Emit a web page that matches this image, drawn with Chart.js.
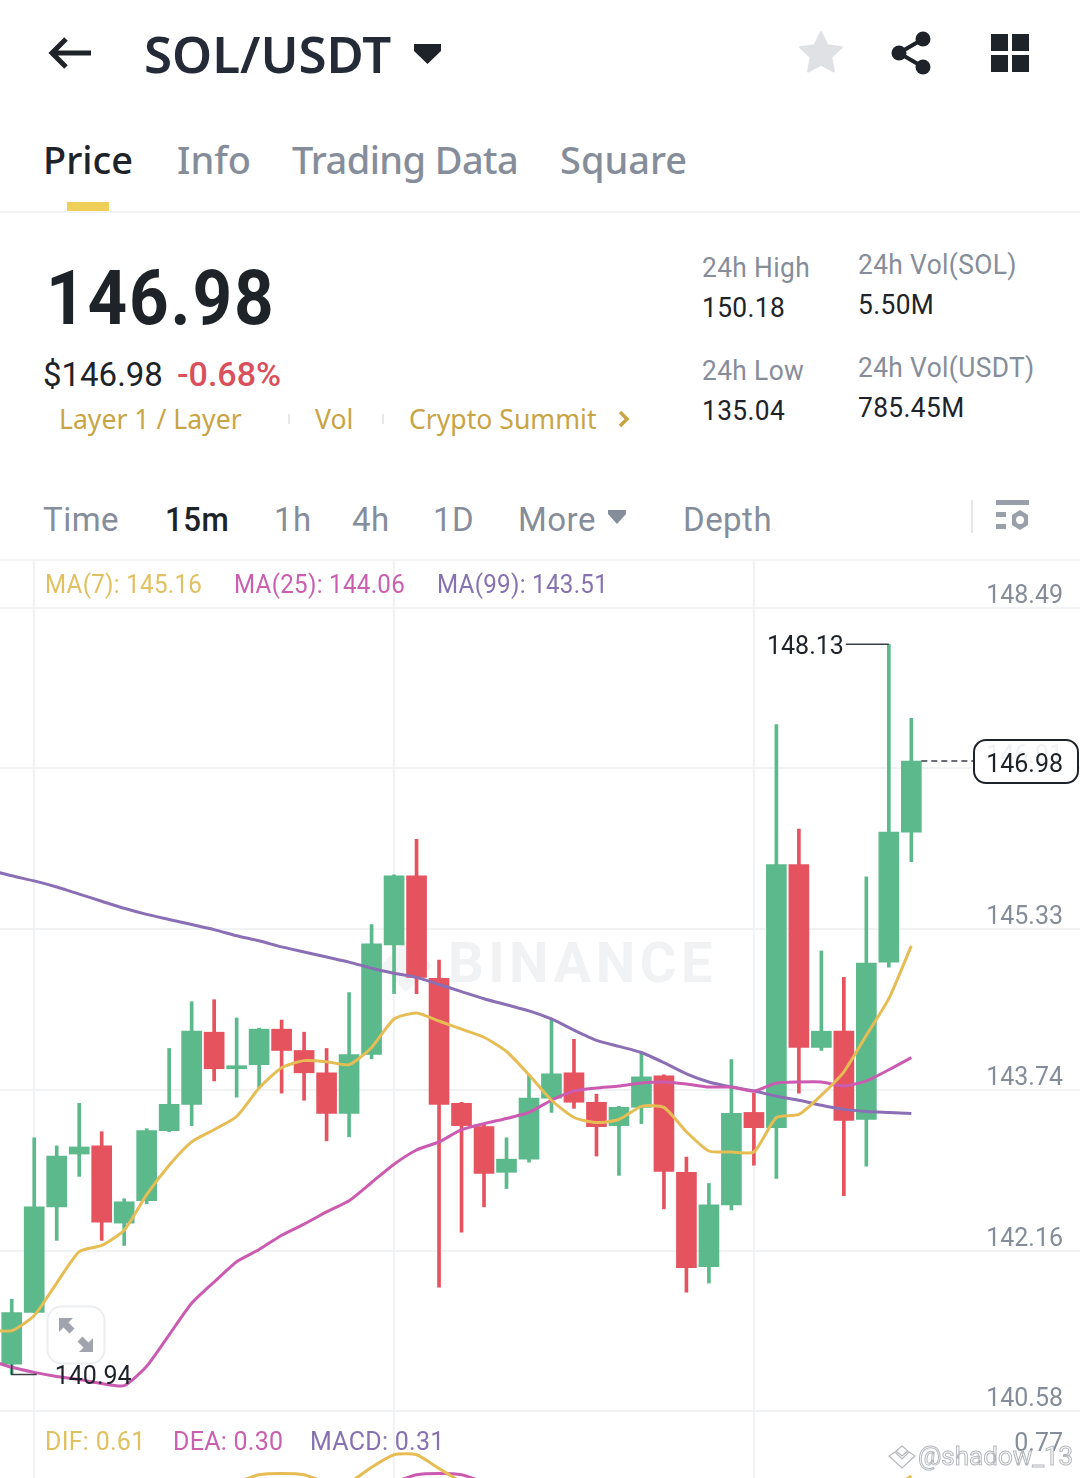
<!DOCTYPE html>
<html>
<head>
<meta charset="utf-8">
<title>SOL/USDT</title>
<script src="https://cdn.jsdelivr.net/npm/chart.js@4"></script>
<style>
  html, body { margin: 0; padding: 0; background: #fff; }
  body { position: relative; width: 1080px; height: 1478px; overflow: hidden; font-family: Roboto, sans-serif; color: #1e2329; }
  .t { position: absolute; white-space: nowrap; transform: translateY(-50%) scaleX(var(--sx, 1)); transform-origin: left center; line-height: 1; z-index: 3; }
  .tab { font-family: "Noto Sans", sans-serif; font-size: 38px; font-weight: 500; color: #868d9a; top: 159px; }
  .stat { font-size: 28px; letter-spacing: .4px; --sx: .94; }
  .grey { color: #868d9a; }
  .tag { color: #c9a445; top: 419px; font-family: "Noto Sans", sans-serif; font-size: 26.6px; }
  .period { font-size: 34px; color: #868d9a; top: 519px; letter-spacing: .5px; --sx: .97; }
  .ind { font-size: 26px; letter-spacing: .3px; --sx: .93; }
  .rule { position: absolute; left: 0; width: 1080px; height: 2px; background: #f2f3f5; }
  .abs { position: absolute; z-index: 3; }
  canvas { position: absolute; z-index: 1; }
  #wm { position: absolute; left: 448px; top: 963px; transform: translateY(-50%); font: 700 56px Roboto, sans-serif; letter-spacing: 4.5px; color: #f1f2f3; line-height: 1; z-index: 0; }
  #sig { position: absolute; left: 918px; top: 1456px; transform: translateY(-50%); font: 26px Roboto, sans-serif; color: #fff; -webkit-text-stroke: 1px #b4b8bd; line-height: 1; z-index: 4; }
</style>
</head>
<body>

<!-- header -->
<svg class="abs" style="left:46px;top:34px" width="48" height="38" viewBox="0 0 48 38"><path d="M45 19H6M20 5 6 19l14 14" fill="none" stroke="#1e2329" stroke-width="5"/></svg>
<div class="t" style="left:144px;top:53px;font-family:'Noto Sans',sans-serif;font-size:51px;font-weight:600;color:#252b36">SOL/USDT</div>
<svg class="abs" style="left:414px;top:44px" width="27" height="20"><path d="M0 0H27V7L13.5 20 0 7Z" fill="#1e2329"/></svg>
<svg class="abs" style="left:799px;top:30px" width="44" height="44" viewBox="0 0 44 44"><path d="M22 2l6.4 13.2 14.4 2-10.5 10 2.6 14.3L22 34.6 9.100 41.500l2.600-14.300-10.500-10 14.400-2z" fill="#dfe1e5" stroke="#dfe1e5" stroke-width="2" stroke-linejoin="round"/></svg>
<svg class="abs" style="left:888px;top:30px" width="44" height="46" viewBox="0 0 44 46"><g fill="#1e2329"><circle cx="35" cy="9" r="7.500"/><circle cx="11" cy="23" r="7.500"/><circle cx="35" cy="37" r="7.500"/></g><path d="M35 9 11 23l24 14" fill="none" stroke="#1e2329" stroke-width="4"/></svg>
<svg class="abs" style="left:991px;top:34px" width="38" height="38"><g fill="#1e2329"><rect width="17" height="17"/><rect x="21" width="17" height="17"/><rect y="21" width="17" height="17"/><rect x="21" y="21" width="17" height="17"/></g></svg>

<div class="t tab" style="left:43px;color:#1e2329">Price</div>
<div class="t tab" style="left:177px">Info</div>
<div class="t tab" style="left:292px;letter-spacing:-.6px">Trading Data</div>
<div class="t tab" style="left:560px">Square</div>
<div class="abs" style="left:67px;top:202px;width:42px;height:9px;background:#f0cf58"></div>
<div class="rule" style="top:211px"></div>

<div class="t" style="left:46px;top:298px;font-size:76px;font-weight:700;letter-spacing:2px;--sx:.91">146.98</div>
<div class="t" style="left:43px;top:374px;font-size:34px;--sx:.97">$146.98</div>
<div class="t" style="left:177px;top:374px;font-size:34px;font-weight:500;color:#d9505c">-0.68%</div>
<div class="t tag" style="left:59px">Layer 1 / Layer</div>
<div class="t tag" style="left:315px">Vol</div>
<div class="t tag" style="left:409px">Crypto Summit</div>
<div class="abs" style="left:288px;top:414px;width:2px;height:10px;background:#e6e8ea"></div>
<div class="abs" style="left:382px;top:414px;width:2px;height:10px;background:#e6e8ea"></div>
<svg class="abs" style="left:617px;top:409px" width="14" height="20"><path d="M3 3l7 7-7 7" fill="none" stroke="#c9a445" stroke-width="3.500"/></svg>

<div class="t stat grey" style="left:702px;top:268px">24h High</div>
<div class="t stat" style="left:702px;top:308px">150.18</div>
<div class="t stat grey" style="left:702px;top:371px">24h Low</div>
<div class="t stat" style="left:702px;top:411px">135.04</div>
<div class="t stat grey" style="left:858px;top:265px">24h Vol(SOL)</div>
<div class="t stat" style="left:858px;top:305px">5.50M</div>
<div class="t stat grey" style="left:858px;top:368px">24h Vol(USDT)</div>
<div class="t stat" style="left:858px;top:408px">785.45M</div>

<div class="t period" style="left:43px">Time</div>
<div class="t period" style="left:165px;color:#1e2329;font-weight:500;--sx:.92">15m</div>
<div class="t period" style="left:274px">1h</div>
<div class="t period" style="left:352px">4h</div>
<div class="t period" style="left:433px">1D</div>
<div class="t period" style="left:518px">More</div>
<svg class="abs" style="left:608px;top:510px" width="18" height="14"><path d="M0 0H18V4L9 14 0 4Z" fill="#868d9a"/></svg>
<div class="t period" style="left:683px">Depth</div>
<div class="abs" style="left:971px;top:500px;width:2px;height:33px;background:#e6e8ea"></div>
<svg class="abs" style="left:995px;top:499px" width="36" height="36"><g fill="#9aa0aa"><rect x="1" y="1" width="33" height="5"/><rect x="1" y="13" width="10" height="5"/><rect x="1" y="25" width="10" height="5"/></g><path d="M25 11l8 5v10l-8 5-8-5V16z" fill="#9aa0aa"/><circle cx="25" cy="21" r="4" fill="#fff"/></svg>
<div class="rule" style="top:559px"></div>

<!-- legends -->
<div class="t ind" style="left:45px;top:584px;color:#e0c060">MA(7): 145.16</div>
<div class="t ind" style="left:234px;top:584px;color:#c95fae">MA(25): 144.06</div>
<div class="t ind" style="left:437px;top:584px;color:#8672b0">MA(99): 143.51</div>
<div class="t ind" style="left:45px;top:1441px;color:#e0c060;--sx:.96">DIF: 0.61</div>
<div class="t ind" style="left:173px;top:1441px;color:#c95fae;--sx:.96">DEA: 0.30</div>
<div class="t ind" style="left:310px;top:1441px;color:#8672b0;--sx:.96">MACD: 0.31</div>

<div id="wm">BINANCE</div>
<svg style="position:absolute;left:378px;top:938px;z-index:0" width="56" height="56" viewBox="0 0 56 56"><path d="M28 2 54 28 28 54 2 28Z" fill="#f3f4f5"/></svg>

<canvas id="priceChart" width="1102" height="885" style="left:-22px;top:544px"></canvas>
<canvas id="macdChart" width="1102" height="99" style="left:-22px;top:1395px"></canvas>

<!-- expand button -->
<svg class="abs" style="left:46px;top:1305px" width="60" height="60" viewBox="0 0 60 60">
  <rect x="1.500" y="1.500" width="57" height="57" rx="14" fill="#fff" stroke="#eceef0" stroke-width="2"/>
  <path d="M13 13h14l-4.500 4.500 6 6-5 5-6-6L13 27zM47 47H33l4.500-4.500-6-6 5-5 6 6L47 33z" fill="#a0a4ae"/>
</svg>

<svg style="position:absolute;left:888px;top:1445px;z-index:4" width="28" height="24" viewBox="0 0 28 24"><path d="M14 1l6 5-6 5-6-5zM1 11l6-4 7 7 7-7 6 4-13 12z" fill="none" stroke="#b4b8bd" stroke-width="1.200"/></svg>
<div id="sig">@shadow_13</div>

<script>
// first row is the candle just left of the screen, only its averages show
var labels = [];
for (var n = 0; n < 49; n++) labels.push(String(n));

var opens  = [null,141.04,141.55,142.59,143.11,143.19,142.43,142.65,143.34,143.60,144.31,143.95,143.99,144.34,144.13,143.91,143.51,144.09,145.17,145.85,144.84,143.61,143.38,142.93,143.06,143.66,143.91,143.62,143.39,143.57,143.88,142.93,142.00,142.61,143.52,143.37,145.96,144.16,144.32,143.45,145.00,146.28];
var closes = [null,141.55,142.59,143.09,143.18,142.44,142.64,143.34,143.60,144.32,143.95,143.98,144.34,144.13,143.91,143.51,144.09,145.18,145.85,144.85,143.60,143.39,142.92,143.06,143.66,143.90,143.62,143.38,143.57,143.87,142.94,141.99,142.61,143.51,143.37,145.96,144.16,144.32,143.44,144.99,146.28,146.98];
var highs  = [null,141.68,143.27,143.19,143.61,143.33,142.67,143.36,144.15,144.61,144.63,144.45,144.35,144.43,144.31,144.15,144.70,145.37,145.86,146.21,145.02,143.62,143.40,143.27,143.89,144.44,144.24,143.70,143.58,144.10,143.89,143.08,142.82,144.04,143.71,147.34,146.31,145.11,144.85,145.84,148.13,147.40];
var lows   = [null,140.94,141.55,142.26,142.89,142.26,142.21,142.62,143.33,143.39,143.83,143.67,143.76,143.71,143.64,143.24,143.28,144.05,144.69,144.69,141.80,142.34,142.59,142.77,143.03,143.52,143.56,143.09,142.90,143.41,142.57,141.75,141.84,142.56,143.00,142.87,143.71,144.13,142.70,142.99,144.95,145.99];

var ma7  = [141.38,141.37,141.52,141.84,142.15,142.21,142.36,142.71,143.00,143.23,143.35,143.48,143.76,143.96,144.03,144.02,143.99,144.16,144.44,144.50,144.42,144.34,144.26,144.12,143.89,143.64,143.47,143.42,143.45,143.58,143.57,143.33,143.14,143.13,143.13,143.47,143.50,143.69,143.92,144.28,144.64,145.16];
var ma25 = [141.08,141.01,140.96,140.92,140.89,140.85,140.83,141.02,141.33,141.64,141.85,142.05,142.17,142.31,142.42,142.54,142.65,142.83,143.01,143.15,143.23,143.35,143.41,143.46,143.52,143.64,143.73,143.76,143.78,143.81,143.82,143.80,143.77,143.77,143.73,143.81,143.82,143.82,143.78,143.83,143.94,144.06];
var ma99 = [145.91,145.85,145.80,145.74,145.67,145.60,145.53,145.47,145.42,145.37,145.32,145.26,145.21,145.15,145.10,145.05,145.00,144.94,144.89,144.85,144.78,144.71,144.64,144.58,144.52,144.44,144.33,144.23,144.17,144.11,144.01,143.90,143.82,143.77,143.73,143.68,143.64,143.59,143.55,143.53,143.52,143.51];

// only the tops of these curves are in the picture
var dif = [null,null,null,null,null,null,null,null,null,null,null,0.56,0.62,0.63,0.62,0.56,0.56,0.68,0.78,0.78,0.67,0.56,null,null,null,null,null,null,null,null,null,null,null,null,null,null,null,null,null,0.50,0.50,0.61];
var dea = [null,null,null,null,null,null,null,null,null,null,null,null,null,null,null,null,null,null,0.56,0.62,0.63,0.62,0.56];

var priceTicks = [148.49, 146.91, 145.33, 143.74, 142.16, 140.58];
var macdTicks = [0.77];
var gridRows = [2, 18, 34];

var GREEN = '#5bb98b', RED = '#e5535f', GRID = '#f1f2f4', GREY = '#868d9a', DARK = '#1e2329';
var TICK_FONT = { family: 'Roboto', size: 25 };

function xAxis() {
  return {
    offset: true,
    ticks: { display: false, autoSkip: false },
    grid: {
      offset: false,
      drawTicks: false,
      lineWidth: 2,
      color: function(c) { return gridRows.indexOf(c.index) >= 0 ? GRID : 'rgba(0,0,0,0)'; }
    },
    border: { display: false }
  };
}

function yAxis(min, max, values, showGrid) {
  return {
    position: 'right',
    min: min,
    max: max,
    afterFit: function(axis) { axis.width = 0; },
    afterBuildTicks: function(axis) {
      axis.ticks = values.map(function(v) { return { value: v }; });
    },
    ticks: {
      mirror: true,
      padding: -17,
      labelOffset: -11,
      color: GREY,
      font: TICK_FONT,
      callback: function(v) { return v.toFixed(2); }
    },
    grid: { display: showGrid, drawTicks: false, lineWidth: 2, color: GRID },
    border: { display: false }
  };
}

function maLine(values, colour, order) {
  return { type: 'line', data: values, borderColor: colour, borderWidth: 3, pointRadius: 0, tension: 0.2, order: order };
}

function candleColours() {
  return opens.map(function(o, i) { return closes[i] >= o ? GREEN : RED; });
}

function span(a, b) {
  return a.map(function(v, i) { return v === null ? null : [v, b[i]]; });
}

// price labels on the high, the low and the last close
var priceMarks = {
  id: 'priceMarks',
  afterDatasetsDraw: function(chart) {
    var ctx = chart.ctx, xs = chart.scales.x, ys = chart.scales.y;
    ctx.save();
    ctx.font = '25px Roboto';
    ctx.fillStyle = DARK;
    ctx.strokeStyle = '#3a3f47';
    ctx.lineWidth = 1.5;
    ctx.textBaseline = 'middle';

    var hx = xs.getPixelForValue(40), hy = ys.getPixelForValue(148.13);
    ctx.beginPath();
    ctx.moveTo(hx - 43, hy);
    ctx.lineTo(hx, hy);
    ctx.stroke();
    ctx.textAlign = 'right';
    ctx.fillText('148.13', hx - 45, hy + 3);

    var lx = xs.getPixelForValue(1), ly = ys.getPixelForValue(140.94);
    ctx.beginPath();
    ctx.moveTo(lx, ly - 10);
    ctx.lineTo(lx, ly);
    ctx.lineTo(lx + 25, ly);
    ctx.stroke();
    ctx.textAlign = 'left';
    ctx.fillText('140.94', lx + 43, ly + 3);

    var cx = xs.getPixelForValue(41), cy = ys.getPixelForValue(146.98);
    ctx.setLineDash([6, 4]);
    ctx.beginPath();
    ctx.moveTo(cx + 10, cy);
    ctx.lineTo(996, cy);
    ctx.stroke();
    ctx.setLineDash([]);
    ctx.beginPath();
    ctx.roundRect(996, cy - 21, 104, 43, 12);
    ctx.fillStyle = 'rgba(255,255,255,0.88)';
    ctx.fill();
    ctx.strokeStyle = DARK;
    ctx.lineWidth = 2;
    ctx.stroke();
    ctx.fillStyle = DARK;
    ctx.textAlign = 'right';
    ctx.fillText('146.98', 1085, cy + 5);
    ctx.restore();
  }
};

new Chart(document.getElementById('priceChart'), {
  type: 'bar',
  data: {
    labels: labels,
    datasets: [
      maLine(ma7, '#e6bd55', 1),
      maLine(ma25, '#cb5bb0', 2),
      maLine(ma99, '#8b6fb5', 3),
      { data: span(opens, closes), backgroundColor: candleColours(), barThickness: 20, grouped: false, order: 4 },
      { data: span(lows, highs), backgroundColor: candleColours(), barThickness: 3, grouped: false, order: 5 }
    ]
  },
  options: {
    responsive: false,
    animation: false,
    layout: { padding: { top: 16, bottom: 16 } },
    plugins: { legend: { display: false }, tooltip: { enabled: false } },
    scales: { x: xAxis(), y: yAxis(140.56, 148.96, priceTicks, true) }
  },
  plugins: [priceMarks]
});

new Chart(document.getElementById('macdChart'), {
  type: 'line',
  data: {
    labels: labels,
    datasets: [
      maLine(dif, '#e6bd55', 1),
      maLine(dea, '#cb5bb0', 2)
    ]
  },
  options: {
    responsive: false,
    animation: false,
    layout: { padding: { top: 16, bottom: 16 } },
    plugins: { legend: { display: false }, tooltip: { enabled: false } },
    scales: { x: xAxis(), y: yAxis(0.594, 1.13, macdTicks, false) }
  }
});
</script>
</body>
</html>
